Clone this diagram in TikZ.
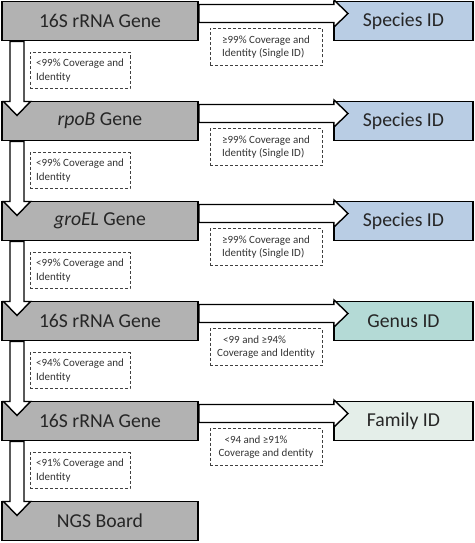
\documentclass[tikz,border=0pt]{standalone}
\usepackage{fontspec}
\setmainfont{Carlito}
\usetikzlibrary{positioning,calc}
\definecolor{genefill}{RGB}{178,178,178}
\definecolor{speciesfill}{RGB}{185,205,228}
\definecolor{genusfill}{RGB}{180,218,214}
\definecolor{familyfill}{RGB}{228,238,233}

\begin{document}
\begin{tikzpicture}[
        x=1pt, y=1pt,
        node distance=61pt and 136pt, % вертикальный и горизонтальный зазоры
        gene/.style={draw, line width=1.8pt, fill=genefill, minimum width=196pt, minimum height=39pt,
            inner sep=0pt, outer sep=0pt, text=black!85, font=\fontsize{19.7}{22}\selectfont}, % серые блоки
        result/.style={gene, minimum width=139pt}, % блоки результата
        note/.style={draw=black!75, dash pattern=on 3pt off 2pt, line width=0.9pt, align=left,
            minimum height=36pt, inner sep=2pt, outer sep=0pt, text=black!80,
            font=\fontsize{11}{13.3}\selectfont}, % пунктирные подписи
        lnote/.style={note, minimum width=100pt},
        rnote/.style={note, minimum width=112pt, minimum height=37pt},
        varrow/.style={draw, line width=1.4pt, fill=white, to path={
            ($(\tikztostart.south west)+(8,-0.9)$) -- ($(\tikztotarget.north west)+(8,0)$)
            -- ($(\tikztotarget.north west)+(1.5,0)$) -- ($(\tikztotarget.north west)+(15,-14)$)
            -- ($(\tikztotarget.north west)+(28.5,0)$) -- ($(\tikztotarget.north west)+(22,0)$)
            -- ($(\tikztostart.south west)+(22,-0.9)$) -- cycle}}, % стрелка вниз
        harrow/.style={draw, line width=1.4pt, fill=white, to path={
            ($(\tikztostart.east)+(0.9,16.5)$) -- ($(\tikztotarget.west)+(0,16.5)$)
            -- ($(\tikztotarget.west)+(0,21)$) -- ($(\tikztotarget.west)+(14,7.5)$)
            -- ($(\tikztotarget.west)+(0,-6)$) -- ($(\tikztotarget.west)+(0,-1.5)$)
            -- ($(\tikztostart.east)+(0.9,-1.5)$) -- cycle}}, % стрелка вправо
    ]
    \useasboundingbox (0,0) rectangle (474,-543);

    \node[gene] (g1) at (100,-21) {16S rRNA Gene};
    \node[gene, below=of g1] (g2) {\textit{rpoB} Gene};
    \node[gene, below=of g2] (g3) {\textit{groEL} Gene};
    \node[gene, below=of g3] (g4) {16S rRNA Gene};
    \node[gene, below=of g4] (g5) {16S rRNA Gene};
    \node[gene, below=of g5] (g6) {NGS Board};

    \node[result, fill=speciesfill, right=of g1] (r1) {Species ID};
    \node[result, fill=speciesfill, right=of g2] (r2) {Species ID};
    \node[result, fill=speciesfill, right=of g3] (r3) {Species ID};
    \node[result, fill=genusfill, right=of g4] (r4) {Genus ID};
    \node[result, fill=familyfill, right=of g5] (r5) {Family ID};

    \node[lnote, below right=12pt and 28pt of g1.south west] (d1) {<99\% Coverage and\\Identity};
    \node[lnote, below right=12pt and 28pt of g2.south west] (d2) {<99\% Coverage and\\Identity};
    \node[lnote, below right=12pt and 28pt of g3.south west] (d3) {<99\% Coverage and\\Identity};
    \node[lnote, below right=12pt and 28pt of g4.south west] (d4) {<94\% Coverage and\\Identity};
    \node[lnote, below right=12pt and 28pt of g5.south west] (d5) {<91\% Coverage and\\Identity};

    \node[rnote, below right=27pt and 12pt of g1.north east] (s1) {≥99\% Coverage and\\Identity (Single ID)};
    \node[rnote, below right=27pt and 12pt of g2.north east] (s2) {≥99\% Coverage and\\Identity (Single ID)};
    \node[rnote, below right=27pt and 12pt of g3.north east] (s3) {≥99\% Coverage and\\Identity (Single ID)};
    \node[rnote, below right=27pt and 12pt of g4.north east] (s4)
        {\hspace*{6pt}<99 and ≥94\%\\Coverage and Identity};
    \node[rnote, below right=27pt and 12pt of g5.north east] (s5)
        {\hspace*{6pt}<94 and ≥91\%\\Coverage and dentity};

    \draw[varrow] (g1) to (g2);
    \draw[varrow] (g2) to (g3);
    \draw[varrow] (g3) to (g4);
    \draw[varrow] (g4) to (g5);
    \draw[varrow] (g5) to (g6);

    \draw[harrow] (g1) to (r1);
    \draw[harrow] (g2) to (r2);
    \draw[harrow] (g3) to (r3);
    \draw[harrow] (g4) to (r4);
    \draw[harrow] (g5) to (r5);
\end{tikzpicture}
\end{document}
